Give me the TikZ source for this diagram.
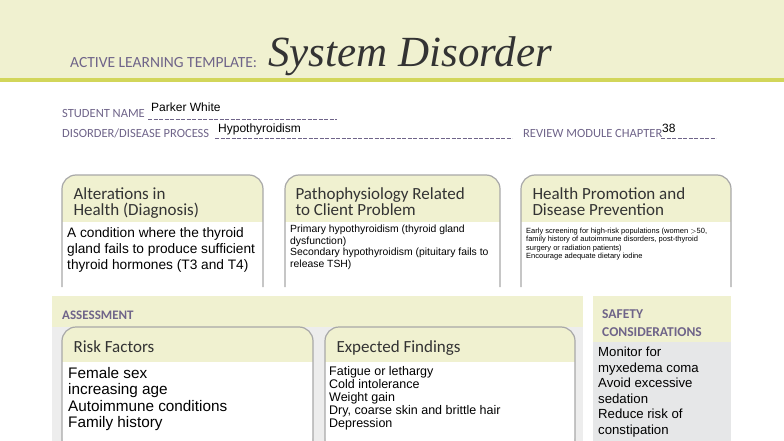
\documentclass[tikz,border=0pt]{standalone}
\usepackage{fontspec}
\setmainfont{Liberation Sans}
\newfontfamily\titlefont{Liberation Serif}
\newfontfamily\capfont{Carlito}
\definecolor{cream}{HTML}{F0F1D0}
\definecolor{lime}{HTML}{D2D65A}
\definecolor{purp}{HTML}{6F6489}
\definecolor{pane}{HTML}{EDEDED}
\definecolor{spane}{HTML}{E6E7E8}
\definecolor{bord}{HTML}{A8A8A8}
\begin{document}
\begin{tikzpicture}[x=1pt,y=-1pt,
  lbl/.style={anchor=base west,text=purp,font=\capfont\fontsize{12.5}{13}\selectfont},
  hand/.style={anchor=base west,font=\fontsize{12}{13}\selectfont},
  head/.style={anchor=north west,align=left,font=\capfont\fontsize{17}{16.5}\selectfont,text=black!80},
  body/.style={anchor=north west,align=left,inner sep=0pt}]
\useasboundingbox (0,0) rectangle (784,441);
\fill[cream] (0,0) rectangle (784,78);
\fill[lime] (0,78) rectangle (784,82);
\node[lbl,font=\capfont\fontsize{15.5}{16}\selectfont,inner sep=0pt] (alt) at (70,68) {ACTIVE LEARNING TEMPLATE:};
\node[anchor=base west,inner sep=0pt,text=black!80,font=\titlefont\itshape\fontsize{43}{44}\selectfont] (ttl) at (268,67) {System Disorder};
\node[lbl,inner sep=0pt] (sn) at (62,118) {STUDENT NAME};
\node[hand,inner sep=0pt] (snv) at (151,112) {Parker White};
\draw[purp,dash pattern=on 4pt off 1.5pt] (148,119) -- (337,119);
\node[lbl,inner sep=0pt] (dp) at (62,137) {DISORDER/DISEASE PROCESS};
\node[hand,inner sep=0pt] (dpv) at (218,132) {Hypothyroidism};
\draw[purp,dash pattern=on 4pt off 1.5pt] (215,138) -- (512,138);
\node[lbl,inner sep=0pt] (rm) at (523,137) {REVIEW MODULE CHAPTER};
\node[hand,inner sep=0pt] (rmv) at (662,132) {38};
\draw[purp,dash pattern=on 4pt off 1.5pt] (661,138) -- (716,138);
% row 1 boxes
\foreach \a/\b/\n in {62/263/b1,285/500/b2,521/731/b3}{
  \begin{scope}
  \clip[rounded corners=14] (\a,175) rectangle (\b,290);
  \fill[cream] (\a,175) rectangle (\b,222);
  \fill[white] (\a,222) rectangle (\b,290);
  \end{scope}
  \draw[bord,line width=1.2pt,rounded corners=14] (\a,287) -- (\a,175) -- (\b,175) -- (\b,287);
}
\node[head] (h1) at (70,184) {Alterations in\\ Health (Diagnosis)};
\node[body,font=\fontsize{13.7}{16}\selectfont] (t1) at (67,227) {A condition where the thyroid\\gland fails to produce sufficient\\thyroid hormones (T3 and T4)};
\node[head] (h2) at (292,184) {Pathophysiology Related\\ to Client Problem};
\node[body,font=\fontsize{10.4}{11.5}\selectfont] (t2) at (290,225) {Primary hypothyroidism (thyroid gland\\dysfunction)\\Secondary hypothyroidism (pituitary fails to\\release TSH)};
\node[head] (h3) at (529,184) {Health Promotion and\\Disease Prevention};
\node[body,font=\fontsize{7.5}{8.2}\selectfont] (t3) at (526,228) {Early screening for high-risk populations (women $>$50,\\family history of autoimmune disorders, post-thyroid\\surgery or radiation patients)\\Encourage adequate dietary iodine};
% assessment
\fill[cream] (52,296) rectangle (583,327);
\fill[pane] (52,327) rectangle (583,441);
\node[lbl,font=\capfont\bfseries\fontsize{13}{14}\selectfont,inner sep=0pt] (as) at (62,319) {ASSESSMENT};
\foreach \a/\b in {62/313,325/575}{
  \begin{scope}
  \clip[rounded corners=14] (\a,327) rectangle (\b,450);
  \fill[cream] (\a,327) rectangle (\b,362);
  \fill[white] (\a,362) rectangle (\b,450);
  \end{scope}
  \draw[bord,line width=1.2pt,rounded corners=14] (\a,441) -- (\a,327) -- (\b,327) -- (\b,441);
}
\node[head] (h4) at (70,337) {Risk Factors};
\node[body,font=\fontsize{15.3}{16.5}\selectfont] (t4) at (68,367) {Female sex\\increasing age\\Autoimmune conditions\\Family history};
\node[head] (h5) at (333,337) {Expected Findings};
\node[body,font=\fontsize{12.5}{13}\selectfont] (t5) at (329,366) {Fatigue or lethargy\\Cold intolerance\\Weight gain\\Dry, coarse skin and brittle hair\\Depression};
% safety
\fill[cream] (593,296) rectangle (731,342);
\fill[spane] (593,342) rectangle (731,441);
\node[anchor=north west,align=left,inner sep=0pt,text=purp,font=\capfont\bfseries\fontsize{13.5}{18}\selectfont] (sc) at (602,309) {SAFETY\\CONSIDERATIONS};
\node[body,font=\fontsize{13.2}{15.5}\selectfont] (t6) at (598,347) {Monitor for\\myxedema coma\\Avoid excessive\\sedation\\Reduce risk of\\constipation};
\end{tikzpicture}
\end{document}
